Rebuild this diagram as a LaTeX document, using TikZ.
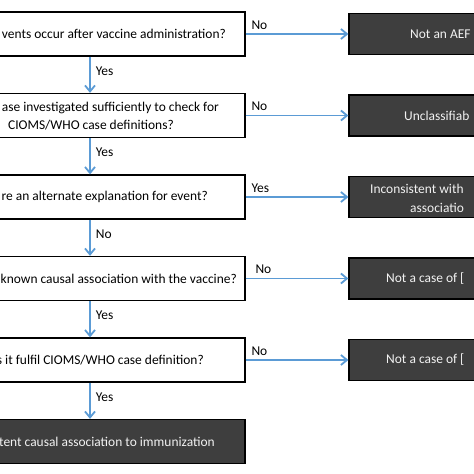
\documentclass[tikz,border=0pt]{standalone}
\usepackage{fontspec}
\setmainfont{Carlito}
\usetikzlibrary{arrows.meta}

\definecolor{flowblue}{RGB}{91,155,213}
\definecolor{darkfill}{RGB}{62,62,62}
\definecolor{lighttext}{RGB}{242,242,242}

\begin{document}
\begin{tikzpicture}[x=1bp,y=-1bp]

\tikzstyle{every node}=[font=\fontsize{13.5}{15}\selectfont]
\tikzstyle{question}=[draw=black, line width=1.3bp, fill=white, minimum width=320bp, minimum height=44bp, inner sep=0pt]
\tikzstyle{outcome}=[draw=black, line width=1.3bp, fill=darkfill, minimum width=240bp, minimum height=41bp, inner sep=0pt]
\tikzstyle{flow}=[draw=flowblue, line width=1.8bp, -{Straight Barb[length=6bp,width=10bp]}]
\tikzstyle{answer}=[inner sep=1bp, text=black]

\useasboundingbox (0,0) rectangle (474,474);
\clip (0,0) rectangle (474,474);

\pgfmathsetmacro\xl{245-160}
\pgfmathsetmacro\xr{349+120}
\coordinate (col) at (90,0);

\pgfmathsetmacro\y{34}
\node[question] (q1) at (\xl, \y) {};
\node[outcome] (r1) at (\xr, \y) {};
\node[anchor=east, inner sep=0pt] (t1) at (226, \y) {vents occur after vaccine administration?};
\node[anchor=west, inner sep=0pt, text=lighttext] (s1) at (410, \y) {Not an AEF};

\pgfmathsetmacro\y{\y+81.5}
\node[question] (q2) at (\xl, \y) {};
\node[outcome] (r2) at (\xr, \y) {};
\node[anchor=east, inner sep=0pt] (t2a) at (219, \y-7.5) {ase investigated sufficiently to check for};
\node[anchor=east, inner sep=0pt] (t2b) at (174, \y+9.5) {CIOMS/WHO case definitions?};
\node[anchor=west, inner sep=0pt, text=lighttext] (s2) at (404, \y) {Unclassifiab};

\pgfmathsetmacro\y{\y+81.5}
\node[question] (q3) at (\xl, \y) {};
\node[outcome] (r3) at (\xr, \y) {};
\node[anchor=east, inner sep=0pt] (t3) at (208, \y) {re an alternate explanation for event?};
\node[anchor=west, inner sep=0pt, text=lighttext] (s3a) at (370, \y-8.5) {Inconsistent with};
\node[anchor=west, inner sep=0pt, text=lighttext] (s3b) at (410, \y+10.5) {associatio};

\pgfmathsetmacro\y{\y+81.5}
\node[question] (q4) at (\xl, \y) {};
\node[outcome] (r4) at (\xr, \y) {};
\node[anchor=east, inner sep=0pt] (t4) at (237, \y) {known causal association with the vaccine?};
\node[anchor=west, inner sep=0pt, text=lighttext] (s4) at (386, \y) {Not a case of [};

\pgfmathsetmacro\y{\y+81.5}
\node[question] (q5) at (\xl, \y) {};
\node[outcome] (r5) at (\xr, \y) {};
\node[anchor=east, inner sep=0pt] (t5) at (204, \y) {s it fulfil CIOMS/WHO case definition?};
\node[anchor=west, inner sep=0pt, text=lighttext] (s5) at (386, \y) {Not a case of [};

\pgfmathsetmacro\y{\y+81.5}
\node[question, fill=darkfill] (q6) at (\xl, \y) {};
\node[anchor=east, inner sep=0pt, text=lighttext] (t6) at (215, \y) {tent causal association to immunization};

% answers to the right
\draw[flow] (q1) -- (r1) node[answer, pos=0, anchor=south west, xshift=4bp, yshift=3bp] {No};
\draw[flow] (q2) -- (r2) node[answer, pos=0, anchor=south west, xshift=4bp, yshift=3bp] {No};
\draw[flow] (q3) -- (r3) node[answer, pos=0, anchor=south west, xshift=4bp, yshift=3bp] {Yes};
\draw[flow] (q4) -- (r4) node[answer, pos=0, anchor=south west, xshift=8bp, yshift=3bp] {No};
\draw[flow] (q5) -- (r5) node[answer, pos=0, anchor=south west, xshift=4bp, yshift=3bp] {No};

% answers downwards
\draw[flow] (q1.south -| col) -- (q2.north -| col) node[answer, midway, anchor=west, xshift=4bp, yshift=4bp] {Yes};
\draw[flow] (q2.south -| col) -- (q3.north -| col) node[answer, midway, anchor=west, xshift=4bp, yshift=4bp] {Yes};
\draw[flow] (q3.south -| col) -- (q4.north -| col) node[answer, midway, anchor=west, xshift=4bp, yshift=4bp] {No};
\draw[flow] (q4.south -| col) -- (q5.north -| col) node[answer, midway, anchor=west, xshift=4bp, yshift=4bp] {Yes};
\draw[flow] (q5.south -| col) -- (q6.north -| col) node[answer, midway, anchor=west, xshift=4bp, yshift=4bp] {Yes};

\end{tikzpicture}
\end{document}
